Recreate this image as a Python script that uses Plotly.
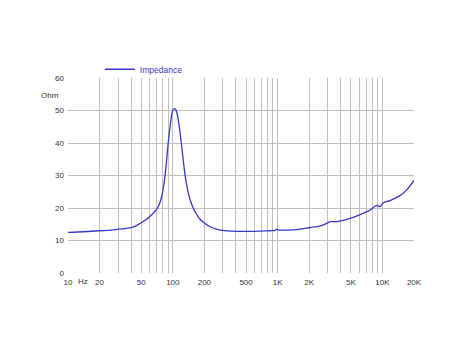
import plotly.graph_objects as go

freq = [10, 14, 20, 27, 36, 43, 49, 55, 60, 65, 70, 74, 78, 82, 86, 90, 94, 98, 101, 104,
        107, 110, 114, 118, 124, 131, 138, 146, 155, 165, 180, 200, 225, 260, 300, 360, 450,
        550, 700, 850, 950, 980, 1010, 1100, 1400, 1700, 2040, 2400, 2730, 3000, 3160, 3660,
        4240, 5270, 6570, 7600, 8500, 9000, 9480, 10200, 11800, 14700, 17000, 20000]
ohm = [12.5, 12.7, 13.0, 13.3, 13.7, 14.3, 15.3, 16.3, 17.3, 18.4, 19.6, 21.0, 23.3, 27.0,
       32.5, 39.5, 44.8, 49.0, 50.4, 50.6, 50.2, 49.0, 46.0, 42.5, 36.5, 30.0, 25.8, 22.6,
       20.3, 18.6, 16.7, 15.4, 14.3, 13.5, 13.1, 12.9, 12.8, 12.8, 12.9, 13.0, 13.1, 13.5,
       13.2, 13.2, 13.3, 13.6, 14.0, 14.3, 14.8, 15.4, 15.8, 15.8, 16.2, 17.1, 18.4, 19.3,
       20.6, 20.7, 20.4, 21.6, 22.3, 23.8, 25.5, 28.5]

grid_freqs = [10, 20, 30, 40, 50, 60, 70, 80, 90, 100, 200, 300, 400, 500, 600, 700, 800, 900,
              1000, 2000, 3000, 4000, 5000, 6000, 7000, 8000, 9000, 10000, 20000]
labels = {10: "10", 20: "20", 50: "50", 100: "100", 200: "200", 500: "500", 1000: "1K",
          2000: "2K", 5000: "5K", 10000: "10K", 20000: "20K"}
tick_text = [labels.get(f, "") for f in grid_freqs]
y_ticks = [0, 10, 20, 30, 40, 50, 60]

fig = go.Figure()
fig.add_trace(go.Scatter(x=freq, y=ohm, mode="lines", name="Impedance",
                         line=dict(color="#3838cc", width=1.3, shape="spline", smoothing=0.8)))

fig.update_layout(
    width=474, height=355,
    margin=dict(l=60, r=68, t=70, b=90),
    paper_bgcolor="white", plot_bgcolor="white",
    font=dict(family="Liberation Sans, Arial, sans-serif", size=8, color="#333333"),
    showlegend=True,
    legend=dict(x=0.092, y=1.045, xanchor="left", yanchor="middle", orientation="h",
                font=dict(size=8.5, color="#3838cc"), bgcolor="rgba(0,0,0,0)"),
    xaxis=dict(type="log", range=[1, 4.30103], tickvals=grid_freqs, ticktext=tick_text,
               showgrid=True, gridcolor="#c0c0c0", gridwidth=1, zeroline=False,
               showline=False, ticks="", ticklabelstandoff=3,
               tickfont=dict(size=8, color="#333333")),
    yaxis=dict(range=[0, 60], tickvals=y_ticks, showgrid=True, gridcolor="#c0c0c0",
               gridwidth=1, zeroline=False, showline=False, ticks="", ticklabelstandoff=3,
               tickfont=dict(size=8, color="#333333")),
    annotations=[
        dict(text="Ohm", xref="paper", yref="paper", x=-0.02, y=0.91, xanchor="right",
             yanchor="middle", showarrow=False, font=dict(size=8, color="#333333")),
        dict(text="Hz", xref="paper", yref="paper", x=0.042, y=-0.012, xanchor="center",
             yanchor="top", showarrow=False, font=dict(size=8, color="#333333")),
    ],
)

fig.write_html("out.html")
